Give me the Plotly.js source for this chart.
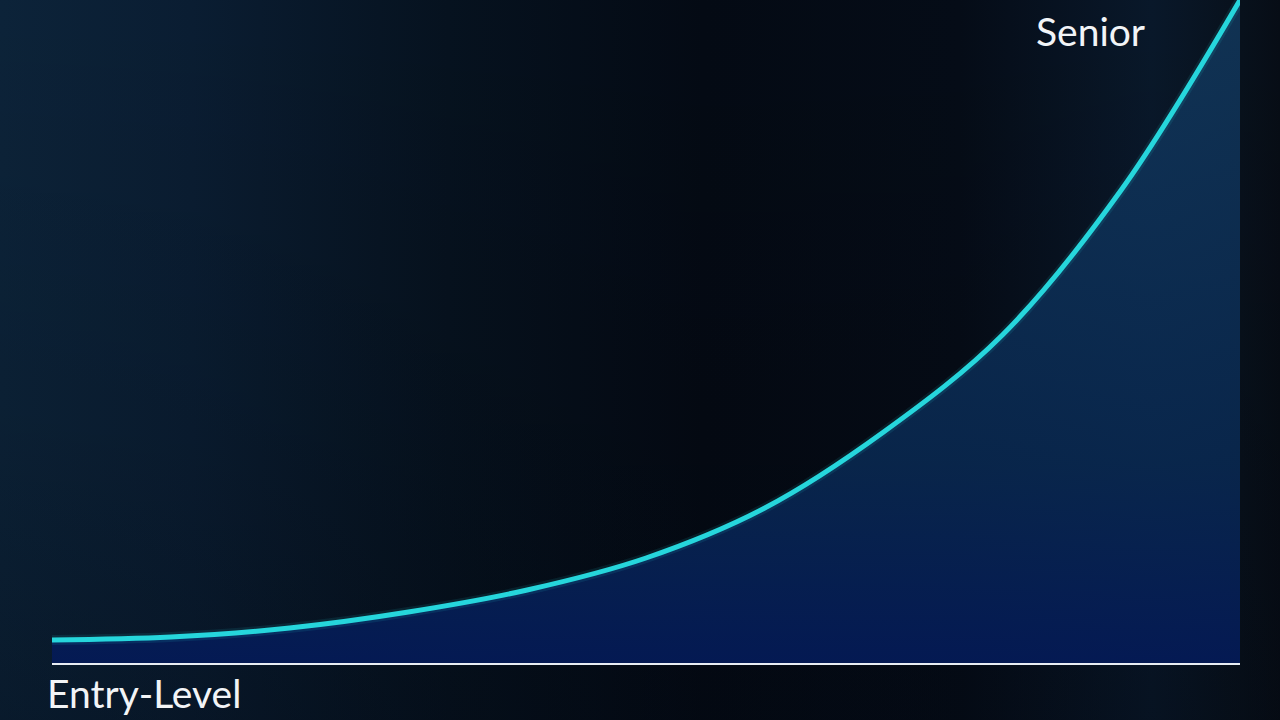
<!DOCTYPE html>
<html>
<head>
<meta charset="utf-8">
<script src="https://cdn.plot.ly/plotly-3.0.1.min.js"></script>
<style>
  html, body { margin:0; padding:0; width:1280px; height:720px; overflow:hidden; }
  body {
    background:
      linear-gradient(180deg, rgba(0,0,0,0) 0%, rgba(0,0,0,0.1) 60%, rgba(2,6,14,0.3) 100%),
      linear-gradient(90deg, #0c2339 0%, #0a1d32 15%, #06121f 35%, #040a14 55%, #050c17 75%, #09182a 90%, #08111c 97%, #070d16 100%);
  }
  #chart { width:1280px; height:720px; }
</style>
</head>
<body>
<div id="chart"></div>
<script>
// Career level steps (0 = Entry-Level, 10 = Senior) and growth height
const levels = [0, 1, 2, 3, 4, 5, 6, 7, 8, 9, 10];
const growth = [23, 26, 35, 51, 73, 105, 155, 231, 328, 473, 663];
const labelStart = "Entry-Level";
const labelEnd = "Senior";

const fillTrace = {
  x: levels, y: growth, type: 'scatter', mode: 'none',
  line: {shape: 'spline', smoothing: 1.0},
  fill: 'tozeroy',
  fillgradient: {
    type: 'vertical', start: 0, stop: 663,
    colorscale: [[0, 'rgba(4,26,86,0.95)'], [0.3, 'rgba(9,40,80,0.9)'], [1, 'rgba(18,56,92,0.85)']]
  },
  hoverinfo: 'skip', showlegend: false
};
const glowTrace = {
  x: levels, y: growth, type: 'scatter', mode: 'lines',
  line: {color: 'rgba(40,215,225,0.10)', width: 10, shape: 'spline', smoothing: 1.0},
  hoverinfo: 'skip', showlegend: false
};
const lineTrace = {
  x: levels, y: growth, type: 'scatter', mode: 'lines',
  line: {color: '#26d6dc', width: 5, shape: 'spline', smoothing: 1.0},
  hoverinfo: 'skip', showlegend: false
};

const layout = {
  width: 1280, height: 720,
  margin: {l: 52, r: 40, t: 0, b: 57},
  paper_bgcolor: 'rgba(0,0,0,0)',
  plot_bgcolor: 'rgba(0,0,0,0)',
  xaxis: {
    range: [0, 10], showgrid: false, zeroline: false, showticklabels: false, ticks: '',
    showline: true, linecolor: '#e8edf3', linewidth: 2, mirror: false
  },
  yaxis: {
    range: [0, 663], showgrid: false, zeroline: false, showticklabels: false, ticks: '', showline: false
  },
  annotations: [
    {text: labelStart, xref: 'paper', yref: 'paper', x: -0.006, y: -0.046,
     xanchor: 'left', yanchor: 'middle', showarrow: false,
     font: {family: 'Lato, "Open Sans", sans-serif', size: 39, color: '#f2f4f7'}},
    {text: labelEnd, xref: 'paper', yref: 'paper', x: 0.8265, y: 0.953,
     xanchor: 'left', yanchor: 'middle', showarrow: false,
     font: {family: 'Lato, "Open Sans", sans-serif', size: 39, color: '#f2f4f7'}}
  ],
  showlegend: false
};

Plotly.newPlot('chart', [fillTrace, glowTrace, lineTrace], layout, {staticPlot: true, displayModeBar: false});
</script>
</body>
</html>
